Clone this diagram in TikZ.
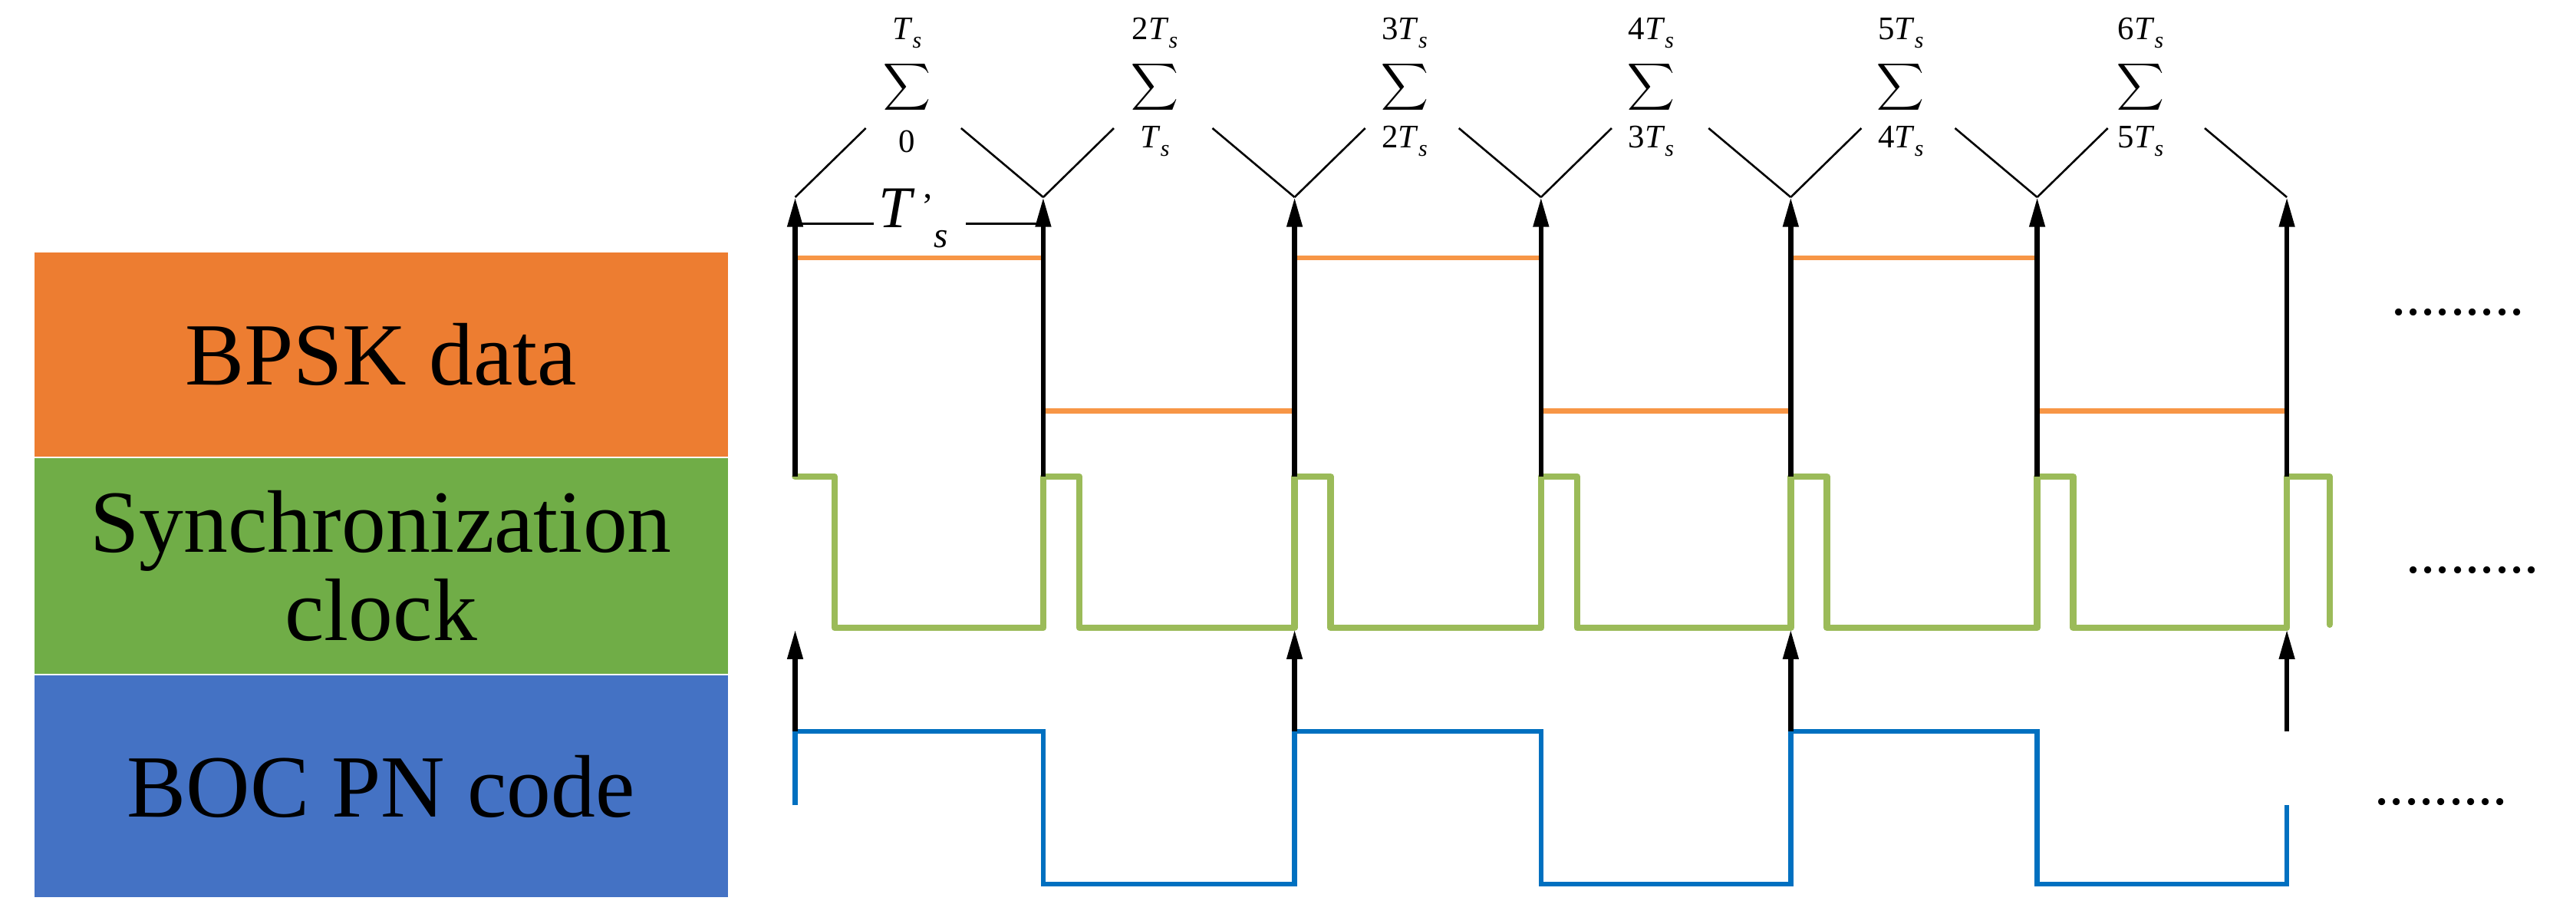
\documentclass[tikz,border=0pt]{standalone}
\usepackage{fontspec}
\setmainfont{Liberation Serif}
\usetikzlibrary{arrows.meta}
\definecolor{boxO}{HTML}{ED7D31}
\definecolor{boxG}{HTML}{70AD47}
\definecolor{boxB}{HTML}{4472C4}
\definecolor{sigO}{HTML}{F79646}
\definecolor{sigG}{HTML}{9BBB59}
\definecolor{sigB}{HTML}{0070C0}
\newcommand{\tsub}[1]{#1\textit{T}\raisebox{-2.5pt}{\fontsize{7}{8}\selectfont\textit{s}}}
\begin{document}
\begin{tikzpicture}[x=0.5pt,y=-0.5pt,
  lab/.style={draw=white,line width=0.4pt,minimum width=211.5pt,anchor=north west,inner sep=0pt,align=center,font=\fontsize{27}{29}\selectfont},
  arr/.style={line width=1.5pt,-{Triangle[length=9pt,width=4.5pt]}},
  thin/.style={line width=0.6pt},
  dots/.style={font=\fontsize{18}{20}\selectfont},
  lim/.style={font=\fontsize{10}{11}\selectfont,inner sep=0pt},
  sig/.style={font=\fontsize{32}{34}\selectfont,inner sep=0pt}]
\useasboundingbox (0,0) rectangle (1568,562);
\node[lab,fill=boxO,minimum height=62.5pt] (b1) at (20,153) {BPSK data};
\node[lab,fill=boxG,minimum height=66pt] (b2) at (20,278) {Synchronization\\[-2pt]clock};
\node[lab,fill=boxB,minimum height=68pt] (b3) at (20,410) {BOC PN code};
% orange
\draw[sigO,line width=1.5pt] (484,157) -- (635,157) -- (635,250) -- (788,250) -- (788,157) -- (938,157) -- (938,250) -- (1090,250) -- (1090,157) -- (1240,157) -- (1240,250) -- (1392,250) -- (1392,203);
% green
\draw[sigG,line width=2pt,line join=round,line cap=round]
 (484,290) -- (508,290) -- (508,382) -- (635,382) -- (635,290) -- (657,290) -- (657,382) -- (788,382) -- (788,290) -- (810,290) -- (810,382) -- (938,382) -- (938,290) -- (960,290) -- (960,382) -- (1090,382) -- (1090,290) -- (1112,290) -- (1112,382) -- (1240,382) -- (1240,290) -- (1262,290) -- (1262,382) -- (1392,382) -- (1392,290) -- (1418,290) -- (1418,380);
% blue
\draw[sigB,line width=1.5pt] (484,490) -- (484,445) -- (635,445) -- (635,538) -- (788,538) -- (788,445) -- (938,445) -- (938,538) -- (1090,538) -- (1090,445) -- (1240,445) -- (1240,538) -- (1392,538) -- (1392,490);
% arrows
\foreach \x/\n in {484/1,635/2,788/3,938/4,1090/5,1240/6,1392/7}{
  \coordinate (s\n) at (\x,290);
  \coordinate (t\n) at (\x,120);
  \draw[arr] (s\n) -- (t\n);
}
\foreach \x/\n in {484/1,788/3,1090/5,1392/7}{
  \coordinate (u\n) at (\x,445);
  \coordinate (v\n) at (\x,383);
  \draw[arr] (u\n) -- (v\n);
}
% diagonals
\foreach \x/\n in {484/1,635/2,788/3,938/4,1090/5,1240/6}{
  \coordinate (r\n) at (\x+43,78);
  \draw[thin] (t\n) -- (r\n);
}
\foreach \x/\n in {635/2,788/3,938/4,1090/5,1240/6,1392/7}{
  \coordinate (l\n) at (\x-50,78);
  \draw[thin] (l\n) -- (\x,120);
}
% T's
\node[font=\fontsize{18}{19}\selectfont\itshape,inner sep=0pt] (tp) at (556,133) {T\,\raisebox{3pt}{\fontsize{11}{12}\selectfont\upshape'}\raisebox{-6pt}{\fontsize{11}{12}\selectfont s}};
\coordinate (ta) at (532,136); \coordinate (tb) at (588,136);
\coordinate (t1b) at (484,136);
\draw[thin] (t1b) -- (ta);
\draw[thin] (tb) -- (634,136);
% sums
\foreach \x/\up/\lo/\n in {552/\tsub{}/0/1,703/\tsub{2}/\tsub{}/2,855/\tsub{3}/\tsub{2}/3,1005/\tsub{4}/\tsub{3}/4,1157/\tsub{5}/\tsub{4}/5,1303/\tsub{6}/\tsub{5}/6}{
  \node[sig] (S\n) at (\x,53) {$\displaystyle\sum$};
  \node[lim] (U\n) at (\x,20) {\up};
  \node[lim] (L\n) at (\x,86) {\lo};
}
\node[dots] (d1) at (1496,190) {.........};
\node[dots] (d2) at (1505,347) {.........};
\node[dots] (d3) at (1486,488) {.........};
\end{tikzpicture}
\end{document}
